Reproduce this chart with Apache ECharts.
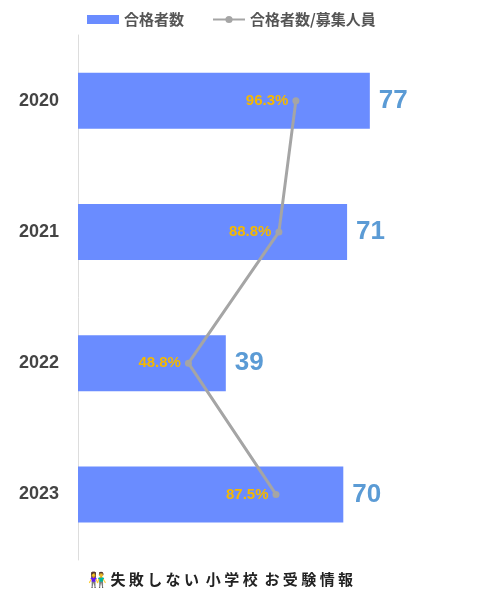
<!DOCTYPE html><html><head><meta charset="utf-8"><script src="https://cdn.jsdelivr.net/npm/echarts@6/dist/echarts.min.js"></script></head><body style="margin:0"><div id="c" style="width:481px;height:598px"></div>
<script>
const categories=['2020','2021','2022','2023'];
const passers=[77,71,39,70];
const ratio=[96.3,88.8,48.8,87.5];
const ch=echarts.init(document.getElementById('c'));
ch.setOption({
animation:false,
legend:{top:7,left:82,itemGap:28,textStyle:{fontSize:15,fontWeight:'bold',color:'#555',fontFamily:'Noto Sans CJK JP'},
 data:[{name:'合格者数',icon:'rect',itemStyle:{color:'#6A8CFF'}},{name:'合格者数/募集人員'}],itemWidth:32,itemHeight:9},
grid:{left:78,width:379,top:35,bottom:38},
xAxis:[{type:'value',min:0,max:100,show:false},{type:'value',min:0,max:167.5,show:false}],
yAxis:{type:'category',data:categories,inverse:true,axisTick:{show:false},axisLine:{lineStyle:{color:'#ddd'}},
 axisLabel:{fontSize:18,fontWeight:'bold',color:'#444',margin:19,fontFamily:'Liberation Sans'}},
series:[
{name:'合格者数',type:'bar',data:passers,barWidth:56,itemStyle:{color:'#6A8CFF'},
 label:{show:true,position:'right',distance:9,fontSize:26,fontWeight:'bold',color:'#5B9BD5',fontFamily:'Liberation Sans'}},
{name:'合格者数/募集人員',type:'line',xAxisIndex:1,data:ratio,lineStyle:{color:'#A5A5A5',width:3},itemStyle:{color:'#A5A5A5'},symbol:'circle',symbolSize:7,
 label:{show:true,position:'left',distance:4,formatter:p=>p.value+'%',fontSize:15,fontWeight:'bold',color:'#F5B800',fontFamily:'Liberation Sans'}}
],
graphic:[{type:'text',left:88,top:572,style:{text:'👫 失 敗 し な い  小 学 校  お 受 験 情 報',fontSize:15,fontWeight:'bold',fill:'#222',fontFamily:'Noto Sans CJK JP'}}]
});
</script></body></html>
